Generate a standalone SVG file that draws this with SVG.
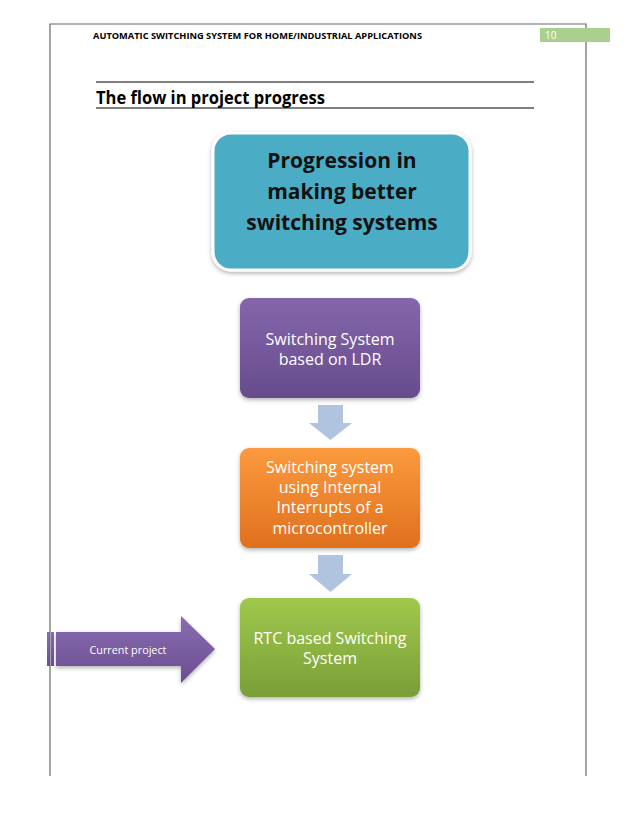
<svg xmlns="http://www.w3.org/2000/svg" width="638" height="826" viewBox="0 0 638 826">
<defs>
<style>
.hdr{font-family:"Open Sans","Liberation Sans",sans-serif;font-weight:bold;font-size:9px;fill:#000}
.title{font-family:"Open Sans","Liberation Sans",sans-serif;font-weight:bold;font-size:17px;fill:#000}
.big{font-family:"Open Sans","Liberation Sans",sans-serif;font-weight:bold;font-size:21px;fill:#111;text-anchor:middle}
.wt{font-family:"Open Sans","Liberation Sans",sans-serif;font-size:16px;fill:#fff;text-anchor:middle}
.sm{font-family:"Open Sans","Liberation Sans",sans-serif;font-size:10.8px;fill:#fff;text-anchor:middle}
.down{fill:#B0C3DF}
</style>
<linearGradient id="gP" x1="0" y1="0" x2="0" y2="1"><stop offset="0" stop-color="#8466AB"/><stop offset="1" stop-color="#674C8C"/></linearGradient>
<linearGradient id="gO" x1="0" y1="0" x2="0" y2="1"><stop offset="0" stop-color="#FB9A3E"/><stop offset="1" stop-color="#E0701E"/></linearGradient>
<linearGradient id="gG" x1="0" y1="0" x2="0" y2="1"><stop offset="0" stop-color="#A0C84C"/><stop offset="1" stop-color="#7A9E38"/></linearGradient>
<linearGradient id="gA" x1="0" y1="0" x2="0" y2="1"><stop offset="0" stop-color="#8A6CB0"/><stop offset="1" stop-color="#6A4E90"/></linearGradient>
<filter id="sh" x="-10%" y="-10%" width="120%" height="130%"><feDropShadow dx="0" dy="2" stdDeviation="2" flood-color="#000" flood-opacity="0.3"/></filter>
</defs>
<rect width="638" height="826" fill="#fff"/>
<g id="page">
<path d="M50 776 V24 H586 V776" fill="none" stroke="#666" stroke-width="1.2"/>
<text class="hdr" x="93" y="39" textLength="329" lengthAdjust="spacingAndGlyphs">AUTOMATIC SWITCHING SYSTEM FOR HOME/INDUSTRIAL APPLICATIONS</text>
<rect x="540" y="28" width="70" height="14" fill="#A9D08E"/>
<text x="545" y="39" font-family="Open Sans,Liberation Sans,sans-serif" font-size="10" fill="#fff">10</text>
<line x1="96" y1="82" x2="534" y2="82" stroke="#000" stroke-width="1.2"/>
<text class="title" x="96" y="104" textLength="229" lengthAdjust="spacingAndGlyphs">The flow in project progress</text>
<line x1="96" y1="108" x2="534" y2="108" stroke="#000" stroke-width="1.2"/>
</g>
<g id="connectors">
<path class="down" d="M318 405 H343 V423 H352 L330.5 440 L309 423 H318 Z"/>
<path class="down" d="M318 555 H343 V574 H352 L330.5 592 L309 574 H318 Z"/>
</g>
<g id="top">
<rect x="213" y="133" width="257" height="137" rx="18" fill="#4BACC6" stroke="#fff" stroke-width="3" filter="url(#sh)"/>
<text class="big" x="342" y="168">Progression in</text>
<text class="big" x="342" y="199">making better</text>
<text class="big" x="342" y="230">switching systems</text>
</g>
<g id="ldr">
<rect x="240" y="298" width="180" height="100" rx="9" fill="url(#gP)" filter="url(#sh)"/>
<text class="wt" x="330" y="345">Switching System</text>
<text class="wt" x="330" y="365">based on LDR</text>
</g>
<g id="interrupts">
<rect x="240" y="448" width="180" height="100" rx="9" fill="url(#gO)" filter="url(#sh)"/>
<text class="wt" x="330" y="473">Switching system</text>
<text class="wt" x="330" y="493">using Internal</text>
<text class="wt" x="330" y="513">Interrupts of a</text>
<text class="wt" x="330" y="534">microcontroller</text>
</g>
<g id="rtc">
<rect x="240" y="598" width="180" height="99" rx="9" fill="url(#gG)" filter="url(#sh)"/>
<text class="wt" x="330" y="644">RTC based Switching</text>
<text class="wt" x="330" y="664">System</text>
</g>
<g id="current">
<rect x="47" y="632" width="3" height="34" fill="url(#gA)"/>
<rect x="51" y="632" width="3" height="34" fill="url(#gA)"/>
<path d="M56 632 H181 V616 L215 649 L181 683 V666 H56 Z" fill="url(#gA)" filter="url(#sh)"/>
<text class="sm" x="128" y="654">Current project</text>
</g>
</svg>
